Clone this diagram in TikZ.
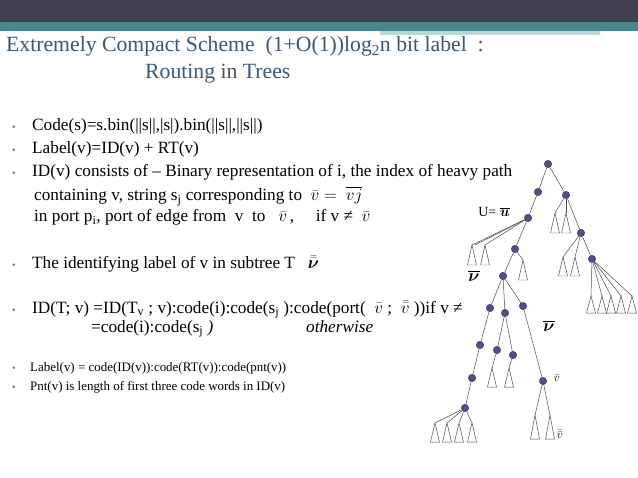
\documentclass[tikz,border=0pt]{standalone}
\usepackage{amsmath,amssymb}
\usepackage{bm}
\usepackage{fontspec}
\setmainfont{Liberation Serif}
\definecolor{hdr}{RGB}{64,64,80}
\definecolor{band}{RGB}{74,134,140}
\definecolor{ttl}{RGB}{58,88,118}
\definecolor{dotc}{RGB}{78,80,140}
\definecolor{bulc}{RGB}{140,90,140}
\begin{document}
\begin{tikzpicture}[x=1bp,y=-1bp,
 dot/.style={circle,fill=dotc,draw=dotc!70!black,inner sep=0pt,minimum size=7.5pt},
 edge/.style={draw=black!70,line width=0.5pt},
 txt/.style={anchor=base west,inner sep=0pt,font=\fontsize{17.3}{19}\selectfont},
 sm/.style={anchor=base west,inner sep=0pt,font=\fontsize{13}{15}\selectfont},
 bul/.style={anchor=base west,inner sep=0pt,text=bulc,font=\fontsize{10}{12}\selectfont}]
\useasboundingbox (0,0) rectangle (638,478);
\fill[white] (0,0) rectangle (638,478);
\fill[hdr] (0,0) rectangle (638,22);
\fill[band] (0,22) rectangle (638,31);
\fill[band!35!white] (380,31) rectangle (600,35);
\node[anchor=base west,inner sep=0pt,text=ttl,font=\fontsize{21.8}{24}\selectfont] (t1) at (6,52) {Extremely Compact Scheme \ (1+O(1))log\textsubscript{2}n bit label \ :};
\node[anchor=base west,inner sep=0pt,text=ttl,font=\fontsize{21.8}{24}\selectfont] (t2) at (145,79) {Routing in Trees};
\foreach \y/\n in {131/b1,154/b2,177/b3,268/b4,313/b5}{\node[bul] (\n) at (12,\y) {•};}
\foreach \y/\n in {371/b6,390/b7}{\node[bul] (\n) at (12,\y) {•};}
\node[txt] (l1) at (32,131) {Code(s)=s.bin(||s||,|s|).bin(||s||,||s||)};
\node[txt] (l2) at (32,154) {Label(v)=ID(v) + RT(v)};
\node[txt] (l3) at (32,177) {ID(v) consists of -- Binary representation of i, the index of heavy path};
\node[txt] (l4) at (34,201) {containing v, string s\textsubscript{j} corresponding to \ $\bar{v}=\ \overline{vj}$};
\node[txt] (l5) at (34,222) {in port p\textsubscript{i}, port of edge from \ v \ to \ \ $\bar{v}$\,, \quad if v ≠ \ $\bar{v}$};
\node[txt] (l6) at (32,268) {The identifying label of v in subtree T \ \ $\bar{\bar{\bm{\nu}}}$};
\node[txt] (l7) at (32,313) {ID(T; v) =ID(T\textsubscript{v} ; v):code(i):code(s\textsubscript{j} ):code(port( \ $\bar{v}$ ; \ $\bar{\bar{v}}$ ))if v ≠};
\node[txt] (l8) at (91,332) {=code(i):code(s\textsubscript{j} \textit{)}};
\node[txt] (l9) at (306,332) {\textit{otherwise}};
\node[sm] (l10) at (30,371) {Label(v) = code(ID(v)):code(RT(v)):code(pnt(v))};
\node[sm] (l11) at (30,390) {Pnt(v) is length of first three code words in ID(v)};
% tree nodes
\foreach \n/\x/\y in {r/548/164,a/538/192,b/566/195,u/528/218,c/515/249,d/503/276,e/581/233,f/592/259,
 g1/490/308,g2/505/313,g3/523/306,h1/480/345,h2/472/378,h3/465/408,k1/497/350,k2/513/355,m/543/381}
 {\node[dot] (\n) at (\x,\y) {};}
\foreach \p/\q in {r/a,r/b,a/u,u/c,c/d,b/e,e/f,d/g1,d/g2,d/g3,g1/h1,h1/h2,h2/h3,g2/k1,g2/k2,g3/m}
 {\draw[edge] (\p) -- (\q);}
% triangles
\foreach \n/\p/\x/\t/\bt in {t1/u/472/245/265,t2/u/485/245/265,t3/c/523/260/280,t4/b/555/213/233,t5/b/566/213/233,
 t6/e/563/257/276,t7/e/575/257/276,t8/f/591/296/313,t9/f/602/296/313,t10/f/611/296/313,t11/f/621/296/313,t12/f/632/296/313,
 t13/h3/435/423/442,t14/h3/447/423/442,t15/h3/459/423/442,t16/h3/472/423/442,t17/m/535/415/439,t18/m/550/415/439,
 t19/k1/492/368/387,t20/k2/509/368/387}{
 \coordinate (\n) at (\x,\t);
 \draw[edge] (\x-4.5,\bt) -- (\n) -- (\x+4.5,\bt) -- cycle;
 \draw[edge] (\p) -- (\n);}
\draw[edge] (u) -- ([xshift=3pt]t1);
\node[inner sep=0pt,font=\fontsize{14}{15}\selectfont] (lu) at (494,212) {U= $\overline{\bm{u}}$};
\node[inner sep=0pt,font=\fontsize{17}{18}\selectfont] (lv1) at (474,276) {$\overline{\bm{\nu}}$};
\node[inner sep=0pt,font=\fontsize{17}{18}\selectfont] (lv2) at (549,326) {$\overline{\bm{\nu}}$};
\node[inner sep=0pt,font=\fontsize{12}{14}\selectfont] (lv3) at (557,378) {$\bar{v}$};
\node[inner sep=0pt,font=\fontsize{12}{14}\selectfont] (lv4) at (560,434) {$\bar{\bar{v}}$};
\end{tikzpicture}
\end{document}
